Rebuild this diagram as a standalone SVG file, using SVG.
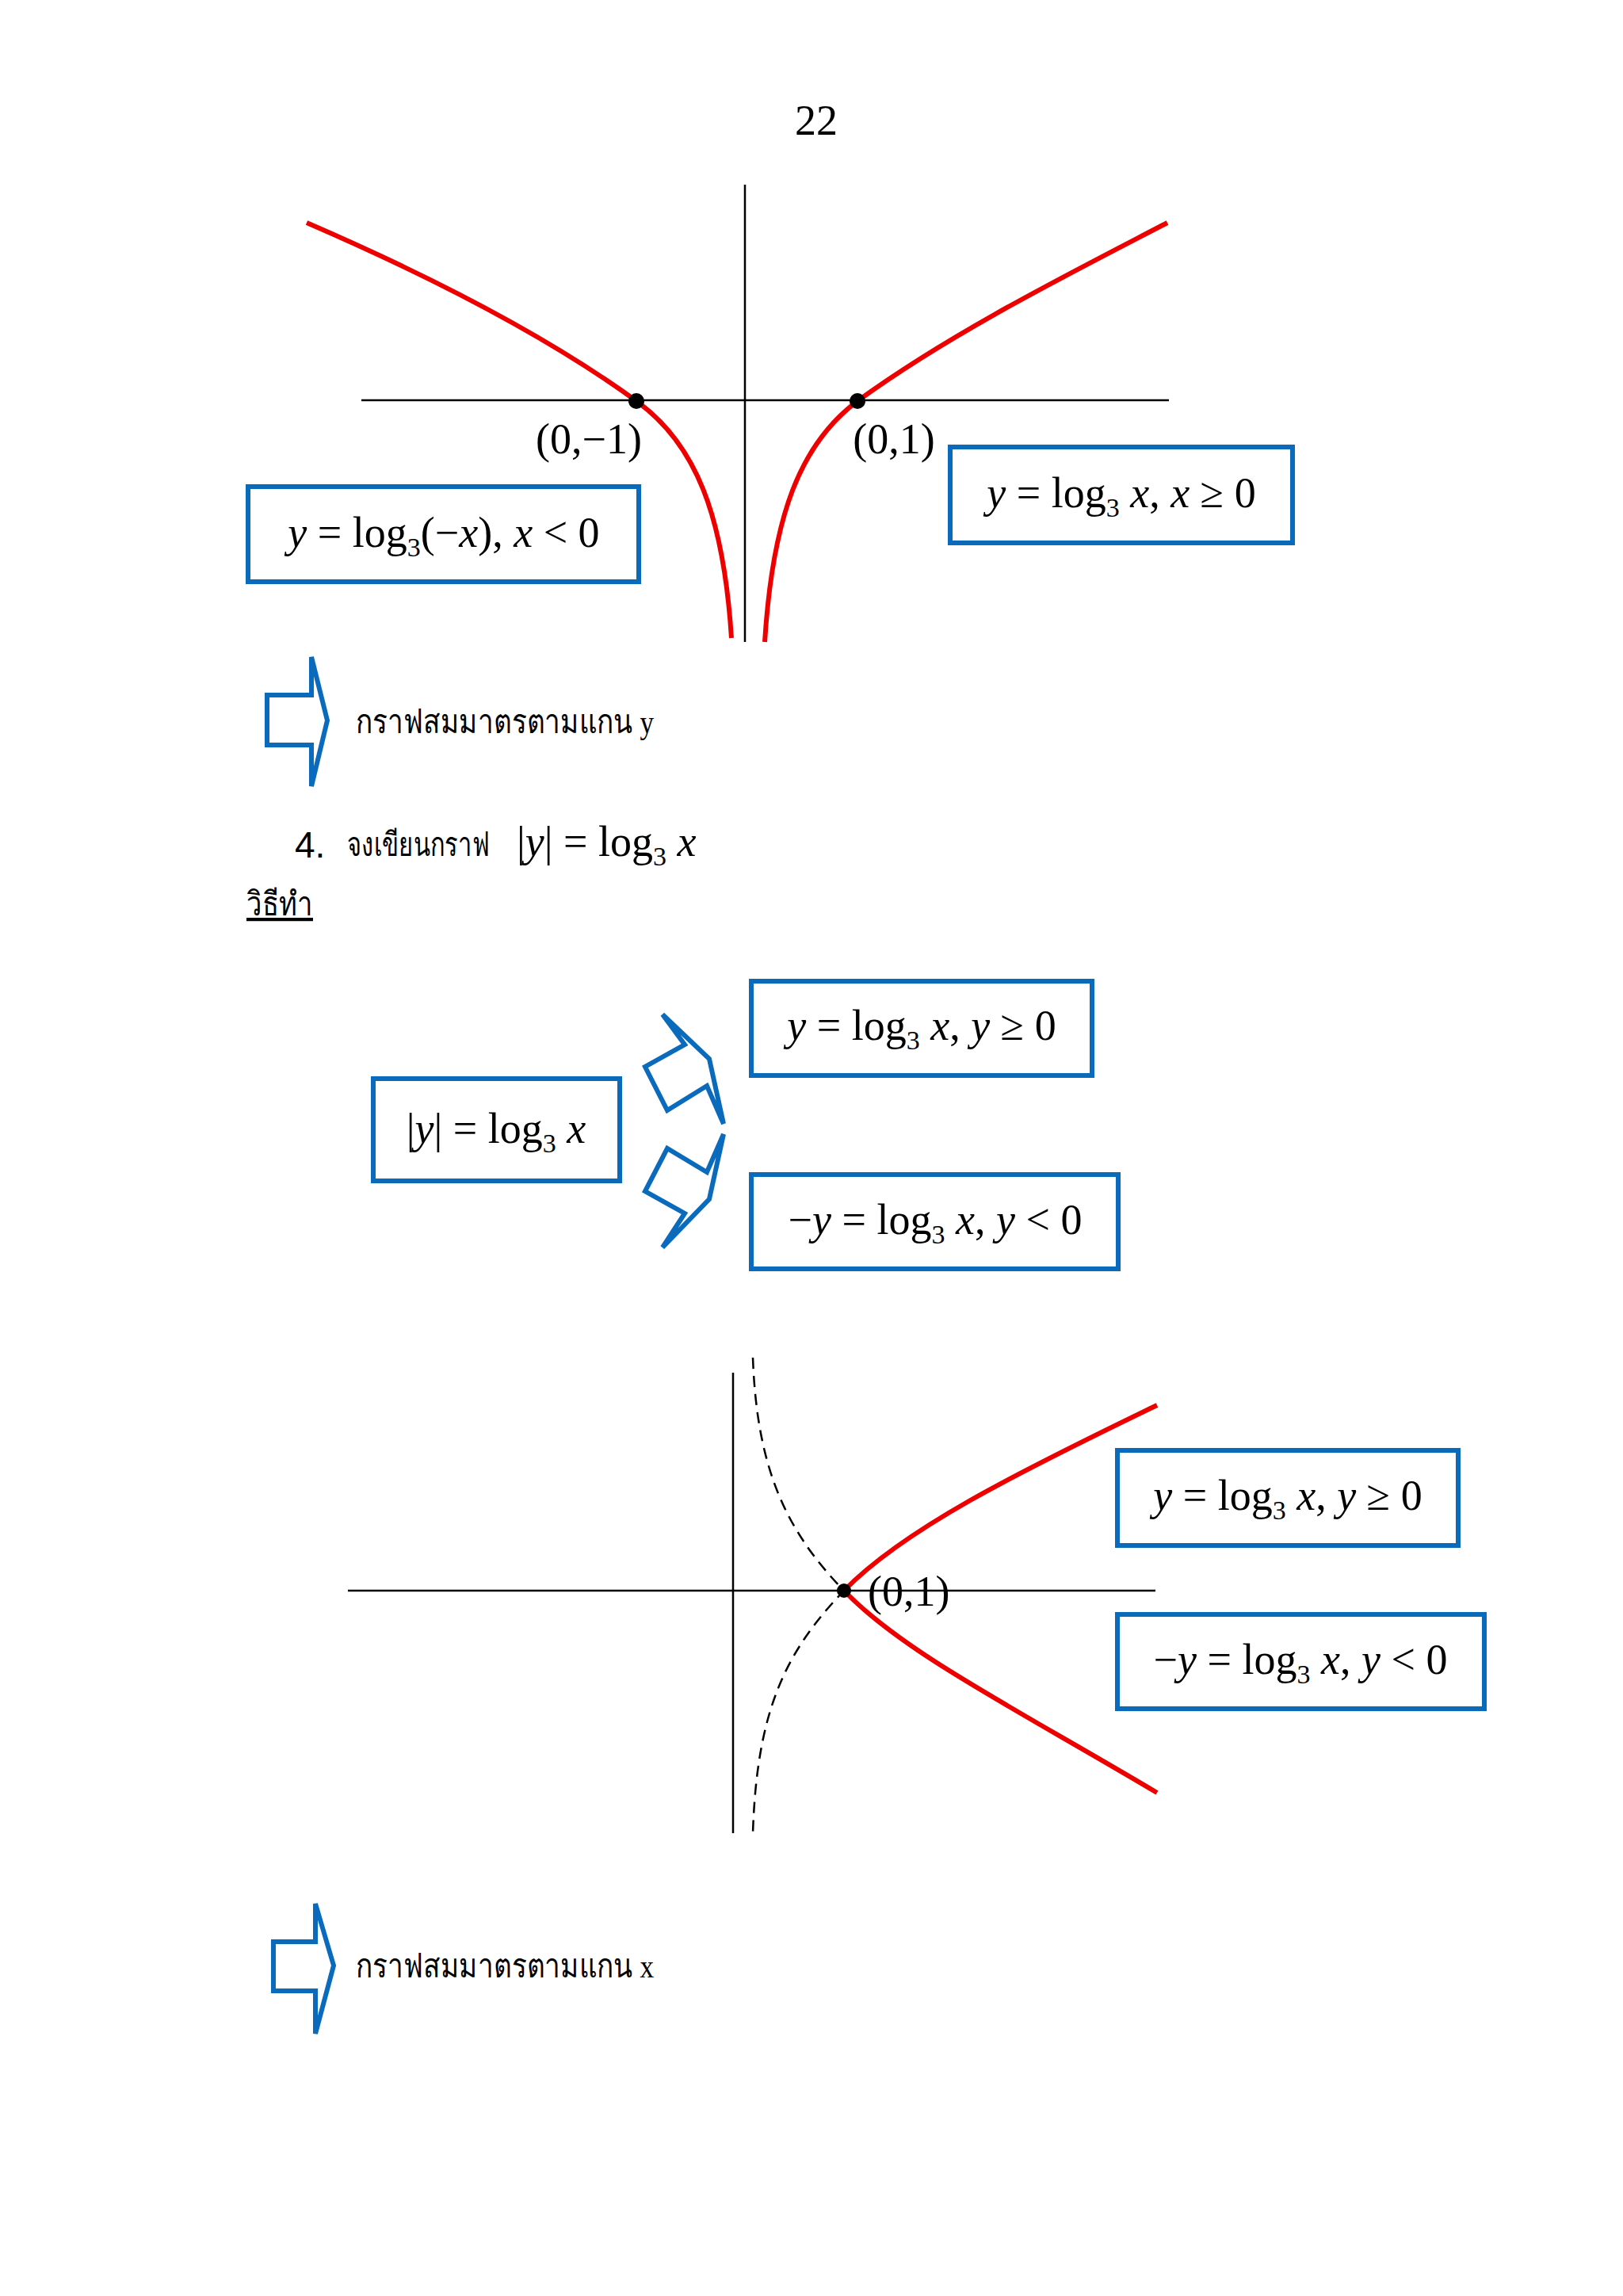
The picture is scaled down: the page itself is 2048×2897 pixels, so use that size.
<svg xmlns="http://www.w3.org/2000/svg" width="2048" height="2897" viewBox="0 0 2048 2897">
<style>
.ax{stroke:#000;stroke-width:2.5;fill:none}
.cv{stroke:#e00;stroke-width:6;fill:none}
.bx{fill:#fff;stroke:#0a6bbd;stroke-width:6}
.ar{fill:#fff;stroke:#0a6bbd;stroke-width:6;stroke-linejoin:miter}
.m{font-family:"Liberation Serif",serif;font-size:54px;fill:#000}
.i{font-style:italic}
.s{font-size:34px}
.th{font-family:"Liberation Serif","Noto Sans","DejaVu Sans",sans-serif;font-size:42px;fill:#000}
</style>
<rect width="2048" height="2897" fill="#fff"/>
<text x="1030" y="170" class="m" text-anchor="middle" font-size="50">22</text>
<g id="graph1">
<line class="ax" x1="940" y1="233" x2="940" y2="810"/>
<line class="ax" x1="456" y1="505" x2="1475" y2="505"/>
<path class="cv" d="M965,810 C975,650 1010,560 1082,506 C1200,420 1350,345 1473,281"/>
<path class="cv" d="M923,805 C913,650 878,560 803,506 C685,420 535,345 387,281"/>
<circle cx="803" cy="506" r="10"/>
<circle cx="1082" cy="506" r="10"/>
<text x="743" y="572" class="m" text-anchor="middle">(0,−1)</text>
<text x="1128" y="572" class="m" text-anchor="middle">(0,1)</text>
</g>
<g id="box1"><rect class="bx" x="1199" y="564" width="432" height="121"/>
<text x="1415" y="640" class="m" text-anchor="middle"><tspan class="i">y</tspan> = log<tspan class="s" dy="12">3</tspan><tspan dy="-12"> </tspan><tspan class="i">x</tspan>, <tspan class="i">x</tspan> ≥ 0</text></g>
<g id="box2"><rect class="bx" x="313" y="614" width="493" height="120"/>
<text x="560" y="690" class="m" text-anchor="middle"><tspan class="i">y</tspan> = log<tspan class="s" dy="12">3</tspan><tspan dy="-12">(−</tspan><tspan class="i">x</tspan>), <tspan class="i">x</tspan> &lt; 0</text></g>
<g id="arrow1"><polygon class="ar" points="337,877 393,877 393,829 413,909 393,992 393,940 337,940"/>
<text x="449" y="925" class="th" textLength="376" lengthAdjust="spacingAndGlyphs">กราฟสมมาตรตามแกน y</text></g>
<g id="q4">
<text x="372" y="1082" font-family="Liberation Sans,sans-serif" font-size="46">4.</text>
<text x="438" y="1080" class="th" font-size="38" textLength="180" lengthAdjust="spacingAndGlyphs">จงเขียนกราฟ</text>
<text x="652" y="1080" class="m"><tspan>|</tspan><tspan class="i">y</tspan><tspan>|</tspan> = log<tspan class="s" dy="12">3</tspan><tspan dy="-12"> </tspan><tspan class="i">x</tspan></text>
<text x="311" y="1155" class="th" font-size="38" text-decoration="underline" textLength="84" lengthAdjust="spacingAndGlyphs">วิธีทำ</text>
</g>
<g id="box3"><rect class="bx" x="471" y="1361" width="311" height="129"/>
<text x="626" y="1442" class="m" text-anchor="middle">|<tspan class="i">y</tspan>| = log<tspan class="s" dy="12">3</tspan><tspan dy="-12"> </tspan><tspan class="i">x</tspan></text></g>
<g id="box4"><rect class="bx" x="948" y="1238" width="430" height="119"/>
<text x="1163" y="1312" class="m" text-anchor="middle"><tspan class="i">y</tspan> = log<tspan class="s" dy="12">3</tspan><tspan dy="-12"> </tspan><tspan class="i">x</tspan>, <tspan class="i">y</tspan> ≥ 0</text></g>
<g id="box5"><rect class="bx" x="948" y="1482" width="463" height="119"/>
<text x="1180" y="1557" class="m" text-anchor="middle">−<tspan class="i">y</tspan> = log<tspan class="s" dy="12">3</tspan><tspan dy="-12"> </tspan><tspan class="i">x</tspan>, <tspan class="i">y</tspan> &lt; 0</text></g>
<g id="connectors">
<polygon class="ar" points="836,1280 895,1336 913,1418 892,1370 842,1401 814,1346 864,1318"/>
<polygon class="ar" points="913,1431 895,1513 836,1574 864,1531 814,1503 842,1449 892,1479"/>
</g>
<g id="graph2">
<line class="ax" x1="925" y1="1732" x2="925" y2="2313"/>
<line class="ax" x1="439" y1="2007" x2="1458" y2="2007"/>
<path d="M950,1713 C955,1850 990,1930 1065,2007 C990,2085 955,2160 950,2313" fill="none" stroke="#000" stroke-width="2.5" stroke-dasharray="14,9"/>
<path class="cv" d="M1065,2007 C1140,1930 1280,1860 1460,1773"/>
<path class="cv" d="M1065,2007 C1140,2085 1280,2155 1460,2262"/>
<circle cx="1065" cy="2007" r="9"/>
<text x="1095" y="2026" class="m">(0,1)</text>
</g>
<g id="box6"><rect class="bx" x="1410" y="1830" width="430" height="120"/>
<text x="1625" y="1905" class="m" text-anchor="middle"><tspan class="i">y</tspan> = log<tspan class="s" dy="12">3</tspan><tspan dy="-12"> </tspan><tspan class="i">x</tspan>, <tspan class="i">y</tspan> ≥ 0</text></g>
<g id="box7"><rect class="bx" x="1410" y="2037" width="463" height="119"/>
<text x="1641" y="2112" class="m" text-anchor="middle">−<tspan class="i">y</tspan> = log<tspan class="s" dy="12">3</tspan><tspan dy="-12"> </tspan><tspan class="i">x</tspan>, <tspan class="i">y</tspan> &lt; 0</text></g>
<g id="arrow2"><polygon class="ar" points="345,2450 398,2450 398,2402 421,2480 398,2566 398,2512 345,2512"/>
<text x="449" y="2495" class="th" textLength="376" lengthAdjust="spacingAndGlyphs">กราฟสมมาตรตามแกน x</text></g>
</svg>
